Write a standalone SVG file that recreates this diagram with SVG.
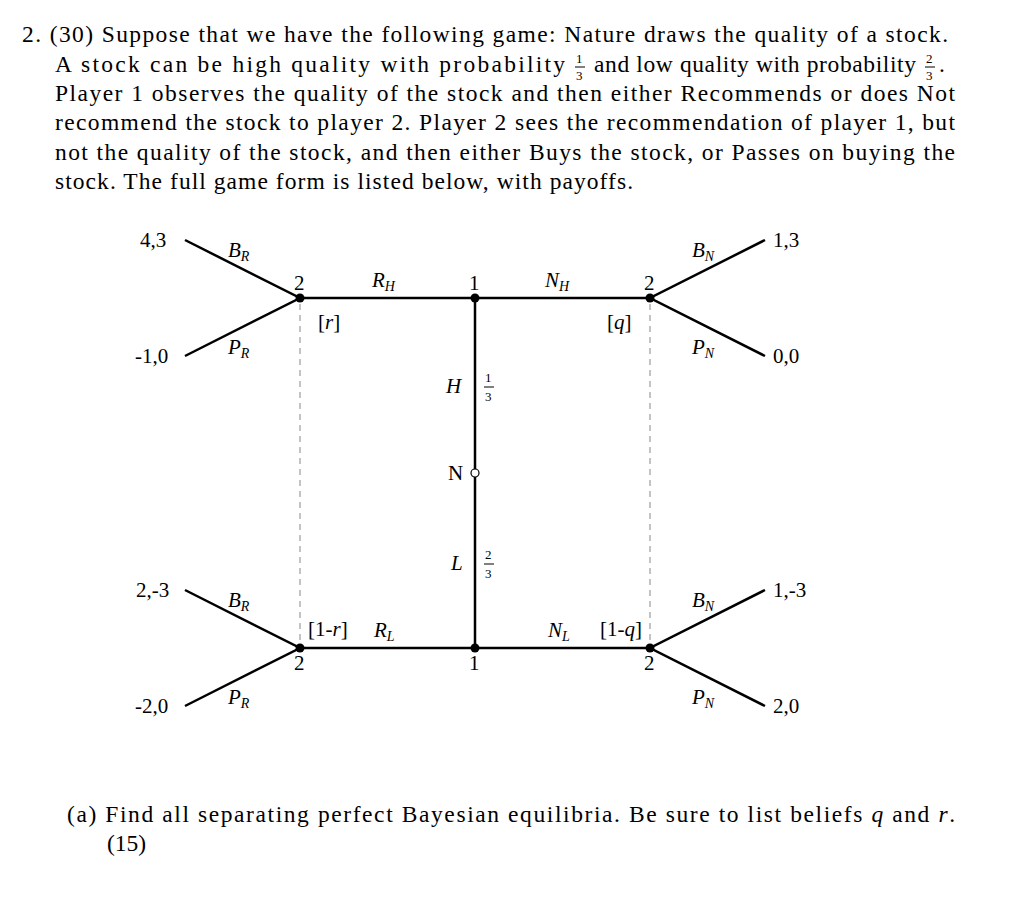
<svg xmlns="http://www.w3.org/2000/svg" width="1024" height="919" viewBox="0 0 1024 919">
<style>
text{font-family:"Liberation Serif","DejaVu Serif",serif;fill:#000}
.p{font-size:23.5px}
.l{font-size:21px}
.s{font-size:13px}
.e{stroke:#000;stroke-width:2.5;fill:none}
.d{stroke:#888;stroke-width:1;stroke-dasharray:6,5;fill:none}
</style>
<rect width="1024" height="919" fill="#fff"/>
<g id="text" class="p">
<text x="22" y="42" textLength="926" lengthAdjust="spacing">2.  (30) Suppose that we have the following game: Nature draws the quality of a stock.</text>
<text x="55" y="72" textLength="510" lengthAdjust="spacing">A stock can be high quality with probability</text>
<text class="s" x="576" y="63">1</text><line x1="575" y1="67" x2="585" y2="67" stroke="#000"/><text class="s" x="576" y="80">3</text>
<text x="594" y="72" textLength="322" lengthAdjust="spacing">and low quality with probability</text>
<text class="s" x="926" y="63">2</text><line x1="925" y1="67" x2="935" y2="67" stroke="#000"/><text class="s" x="926" y="80">3</text>
<text x="939" y="72">.</text>
<text x="55" y="101" textLength="900" lengthAdjust="spacing">Player 1 observes the quality of the stock and then either Recommends or does Not</text>
<text x="55" y="130" textLength="900" lengthAdjust="spacing">recommend the stock to player 2. Player 2 sees the recommendation of player 1, but</text>
<text x="55" y="160" textLength="900" lengthAdjust="spacing">not the quality of the stock, and then either Buys the stock, or Passes on buying the</text>
<text x="55" y="189" textLength="578" lengthAdjust="spacing">stock. The full game form is listed below, with payoffs.</text>
<text x="67" y="822" textLength="888" lengthAdjust="spacing">(a) Find all separating perfect Bayesian equilibria. Be sure to list beliefs <tspan font-style="italic">q</tspan> and <tspan font-style="italic">r</tspan>.</text>
<text x="107" y="851">(15)</text>
</g>
<g id="connectors">
<path class="e" d="M300 298H650M300 648H650M475 298V648"/>
<path class="e" d="M185 240L300 298L185 356M765 240L650 298L765 356M185 590L300 648L185 706M765 590L650 648L765 706"/>
<path class="d" d="M300 304V642M650 304V642"/>
</g>
<g id="nodes">
<circle cx="300" cy="298" r="4.5"/><circle cx="475" cy="298" r="4.5"/><circle cx="650" cy="298" r="4.5"/>
<circle cx="300" cy="648" r="4.5"/><circle cx="475" cy="648" r="4.5"/><circle cx="650" cy="648" r="4.5"/>
<circle cx="475" cy="473" r="4" fill="#fff" stroke="#000" stroke-width="1.2"/>
</g>
<g id="labels" class="l">
<text x="294" y="290">2</text><text x="469" y="290">1</text><text x="644" y="290">2</text>
<text x="294" y="670">2</text><text x="469" y="670">1</text><text x="644" y="670">2</text>
<text x="448" y="480">N</text>
<text x="372" y="287" font-style="italic">R<tspan font-size="14" dy="4">H</tspan></text>
<text x="545" y="287" font-style="italic">N<tspan font-size="14" dy="4">H</tspan></text>
<text x="374" y="637" font-style="italic">R<tspan font-size="14" dy="4">L</tspan></text>
<text x="548" y="637" font-style="italic">N<tspan font-size="14" dy="4">L</tspan></text>
<text x="228" y="257" font-style="italic">B<tspan font-size="14" dy="4">R</tspan></text>
<text x="228" y="354" font-style="italic">P<tspan font-size="14" dy="4">R</tspan></text>
<text x="228" y="607" font-style="italic">B<tspan font-size="14" dy="4">R</tspan></text>
<text x="228" y="704" font-style="italic">P<tspan font-size="14" dy="4">R</tspan></text>
<text x="692" y="257" font-style="italic">B<tspan font-size="14" dy="4">N</tspan></text>
<text x="692" y="354" font-style="italic">P<tspan font-size="14" dy="4">N</tspan></text>
<text x="692" y="607" font-style="italic">B<tspan font-size="14" dy="4">N</tspan></text>
<text x="692" y="704" font-style="italic">P<tspan font-size="14" dy="4">N</tspan></text>
<text x="318" y="329">[<tspan font-style="italic">r</tspan>]</text>
<text x="607" y="329">[<tspan font-style="italic">q</tspan>]</text>
<text x="308" y="636">[1-<tspan font-style="italic">r</tspan>]</text>
<text x="600" y="636">[1-<tspan font-style="italic">q</tspan>]</text>
<text x="446" y="393" font-style="italic">H</text>
<text x="451" y="570" font-style="italic">L</text>
<text class="s" x="485" y="382">1</text><line x1="484" y1="387" x2="494" y2="387" stroke="#000"/><text class="s" x="485" y="401">3</text>
<text class="s" x="485" y="559">2</text><line x1="484" y1="564" x2="494" y2="564" stroke="#000"/><text class="s" x="485" y="578">3</text>
<text x="140" y="247">4,3</text><text x="135" y="363">-1,0</text>
<text x="136" y="597">2,-3</text><text x="135" y="713">-2,0</text>
<text x="773" y="247">1,3</text><text x="773" y="363">0,0</text>
<text x="773" y="597">1,-3</text><text x="773" y="713">2,0</text>
</g>
</svg>
